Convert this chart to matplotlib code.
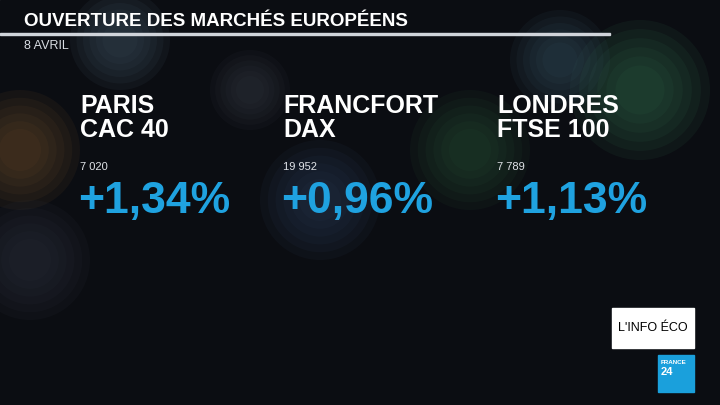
import matplotlib
matplotlib.use("Agg")
import matplotlib.pyplot as plt
from matplotlib.patches import Rectangle, Circle

plt.rcParams['font.family'] = ['Liberation Sans', 'DejaVu Sans']

markets = ["PARIS\nCAC 40", "FRANCFORT\nDAX", "LONDRES\nFTSE 100"]
levels = ["7 020", "19 952", "7 789"]
changes = ["+1,34%", "+0,96%", "+1,13%"]
title = "OUVERTURE DES MARCHÉS EUROPÉENS"
date = "8 AVRIL"

fig = plt.figure(figsize=(7.2, 4.05), dpi=100)
ax = fig.add_axes([0, 0, 1, 1])
ax.set_xlim(0, 720)
ax.set_ylim(405, 0)
ax.axis("off")
ax.add_patch(Rectangle((0, 0), 720, 405, color="#0b0d12", zorder=0))

# blurred background blobs
blobs = [(20, 150, 60, "#6b4a2a", 0.35), (120, 40, 50, "#3a4a5a", 0.4),
         (640, 90, 70, "#2f6a4a", 0.35), (470, 150, 60, "#2a5a3a", 0.3),
         (320, 200, 60, "#2a3a55", 0.35), (560, 60, 50, "#3a5a6a", 0.3),
         (30, 260, 60, "#2a2f3a", 0.4), (250, 90, 40, "#3a3f4a", 0.3)]
for x, y, r, c, a in blobs:
    for k in range(6):
        ax.add_patch(Circle((x, y), r * (1 - k * 0.13), color=c, alpha=a / 3, lw=0, zorder=1))

ax.add_patch(Rectangle((0, 33), 610, 1.5, color="#d0d4da", zorder=2))
ax.text(24, 22, title, color="white", fontsize=13.5, fontweight="bold", va="center", zorder=3)
ax.text(24, 46, date, color="#d8dce2", fontsize=9, va="center", zorder=3)

xs = [80, 283, 497]
for x, m, lv, ch in zip(xs, markets, levels, changes):
    ax.text(x, 118, m, color="white", fontsize=18, fontweight="bold", va="center",
            linespacing=1.0, zorder=3)
    ax.text(x, 167, lv, color="#e0e3e8", fontsize=8, va="center", zorder=3)
    ax.text(x - 2, 202, ch, color="#1fa2e0", fontsize=32, fontweight="bold", va="center", zorder=3)

ax.add_patch(Rectangle((612, 308), 82, 40, color="white", zorder=3))
ax.text(653, 328, "L'INFO ÉCO", color="black", fontsize=9, ha="center", va="center", zorder=4)
ax.add_patch(Rectangle((658, 355), 36, 37, color="#1aa0dc", zorder=3))
ax.text(661, 362, "FRANCE", color="white", fontsize=4.5, fontweight="bold", va="center", zorder=4)
ax.text(661, 372, "24", color="white", fontsize=8, fontweight="bold", va="center", zorder=4)

fig.savefig("out.png", dpi=100)
